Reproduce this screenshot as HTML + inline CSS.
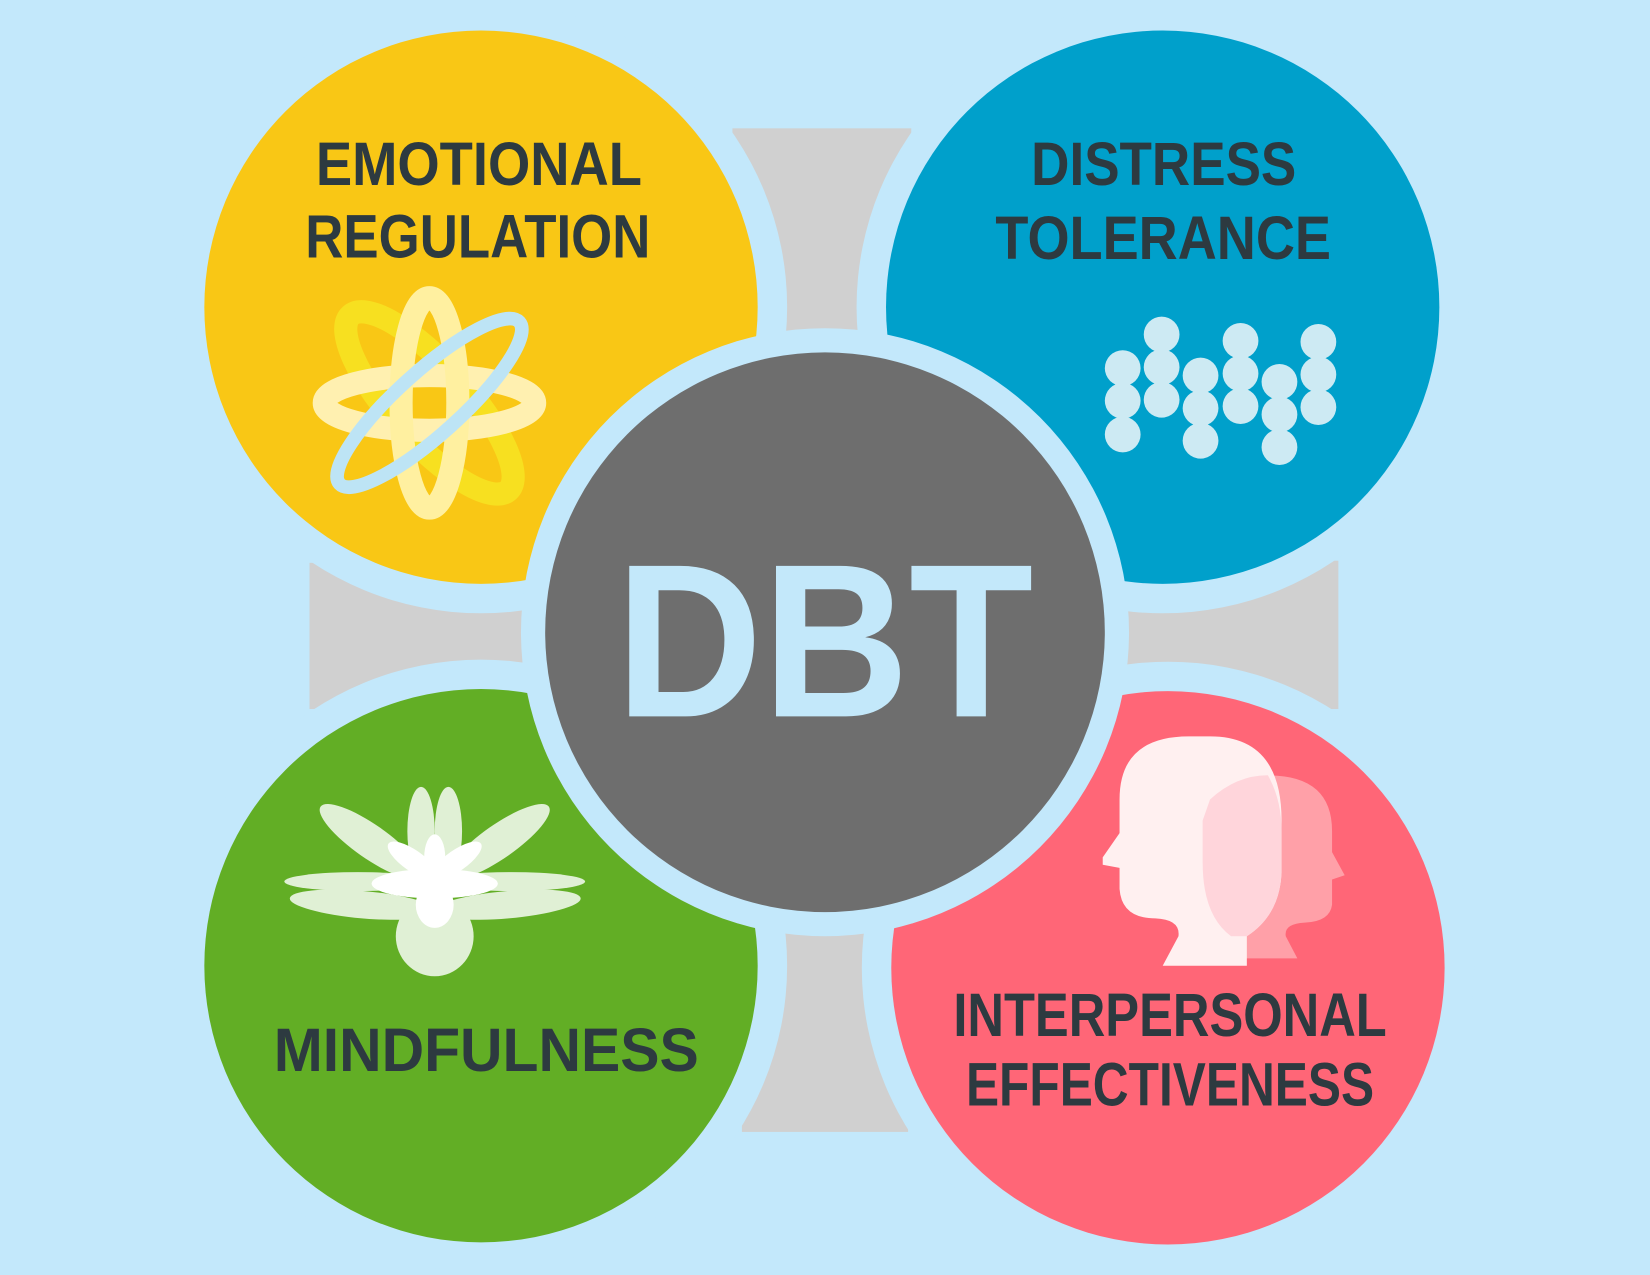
<!DOCTYPE html>
<html><head><meta charset="utf-8"><style>html,body{margin:0;padding:0;background:#c3e8fb}svg{display:block}</style></head>
<body>
<svg width="1650" height="1275" viewBox="0 0 1568 1212" xmlns="http://www.w3.org/2000/svg">
<rect width="1568" height="1212" fill="#c3e8fb"/>
<g fill="#d0d0d0">
<rect x="696" y="122" width="170" height="220"/>
<rect x="705" y="860" width="158" height="216"/>
<rect x="294" y="535" width="220" height="139"/>
<rect x="1060" y="533" width="212" height="141"/>
</g>
<g fill="#c3e8fb">
<circle cx="457" cy="292" r="291"/>
<circle cx="1105" cy="292" r="291"/>
<circle cx="457" cy="918" r="291"/>
<circle cx="1110" cy="920" r="291"/>
</g>
<circle cx="457" cy="292" r="263" fill="#f9c715"/>
<circle cx="1105" cy="292" r="263" fill="#00a0cb"/>
<circle cx="457" cy="918" r="263" fill="#62ae25"/>
<circle cx="1110" cy="920" r="263" fill="#ff6677"/>
<circle cx="784" cy="601" r="289" fill="#c3e8fb"/>
<circle cx="784" cy="601" r="266" fill="#6e6e6e"/>
<g font-family="Liberation Sans, sans-serif" font-weight="bold" fill="#2d3a40" font-size="58">
<text x="300" y="176" textLength="310" lengthAdjust="spacingAndGlyphs">EMOTIONAL</text>
<text x="290" y="245" textLength="328" lengthAdjust="spacingAndGlyphs">REGULATION</text>
<text x="980" y="176" textLength="252" lengthAdjust="spacingAndGlyphs">DISTRESS</text>
<text x="946" y="246" textLength="319" lengthAdjust="spacingAndGlyphs">TOLERANCE</text>
<text x="260" y="1018" textLength="404" lengthAdjust="spacingAndGlyphs">MINDFULNESS</text>
<text x="906" y="985" textLength="412" lengthAdjust="spacingAndGlyphs">INTERPERSONAL</text>
<text x="918" y="1051" textLength="388" lengthAdjust="spacingAndGlyphs">EFFECTIVENESS</text>
</g>
<text x="585" y="681" textLength="397" lengthAdjust="spacingAndGlyphs" font-family="Liberation Sans, sans-serif" font-weight="bold" font-size="208" fill="#c3e8fa">DBT</text>
<!-- atom -->
<g fill="none" stroke-width="22">
<ellipse cx="408" cy="383" rx="112" ry="36" stroke="#f7e020" transform="rotate(48 408 383)"/>
<ellipse cx="408" cy="383" rx="100" ry="26" stroke="#fff0b0"/>
<ellipse cx="408" cy="383" rx="27" ry="100" stroke="#fff0a0"/>
<ellipse cx="408" cy="383" rx="115" ry="30" stroke="#bde4f5" stroke-width="13" transform="rotate(-42 408 383)"/>
</g>
<!-- dots -->
<g fill="#cdeaf3">
<circle cx="1067" cy="350" r="17"/><circle cx="1067" cy="381" r="17"/><circle cx="1067" cy="413" r="17"/>
<circle cx="1104" cy="318" r="17"/><circle cx="1104" cy="349" r="17"/><circle cx="1104" cy="380" r="17"/>
<circle cx="1141" cy="357" r="17"/><circle cx="1141" cy="388" r="17"/><circle cx="1141" cy="419" r="17"/>
<circle cx="1179" cy="324" r="17"/><circle cx="1179" cy="355" r="17"/><circle cx="1179" cy="386" r="17"/>
<circle cx="1216" cy="363" r="17"/><circle cx="1216" cy="394" r="17"/><circle cx="1216" cy="425" r="17"/>
<circle cx="1253" cy="325" r="17"/><circle cx="1253" cy="356" r="17"/><circle cx="1253" cy="387" r="17"/>
</g>
<!-- lotus -->
<g fill="#e0f0d5">
<ellipse cx="413" cy="890" rx="37" ry="38"/>
<ellipse cx="340" cy="838" rx="70" ry="9"/>
<ellipse cx="486" cy="838" rx="70" ry="9"/>
<ellipse cx="345" cy="860" rx="70" ry="13" transform="rotate(5 345 860)"/>
<ellipse cx="482" cy="860" rx="70" ry="13" transform="rotate(-5 482 860)"/>
<ellipse cx="352" cy="800" rx="58" ry="16" transform="rotate(35 352 800)"/>
<ellipse cx="474" cy="800" rx="58" ry="16" transform="rotate(-35 474 800)"/>
<ellipse cx="400" cy="790" rx="13" ry="42"/>
<ellipse cx="426" cy="790" rx="13" ry="42"/>
</g>
<g fill="#ffffff">
<ellipse cx="413" cy="840" rx="60" ry="14"/>
<ellipse cx="413" cy="860" rx="18" ry="22"/>
<ellipse cx="392" cy="818" rx="28" ry="10" transform="rotate(35 392 818)"/>
<ellipse cx="434" cy="818" rx="28" ry="10" transform="rotate(-35 434 818)"/>
<ellipse cx="413" cy="815" rx="10" ry="22"/>
</g>
<!-- heads -->
<path d="M1143 780 Q1150 737 1205 737 Q1266 737 1266 790 L1266 810 L1278 832 L1266 836 L1266 860 Q1264 876 1240 877 Q1220 878 1222 890 L1233 911 L1183 911 L1183 895 Q1143 870 1143 820 Z" fill="#ffa0a8"/>
<path d="M1064 760 Q1064 700 1130 700 L1150 700 Q1218 700 1218 780 L1218 830 Q1216 870 1185 890 L1185 918 L1105 918 L1120 890 Q1122 874 1098 873 Q1066 873 1064 845 L1064 825 L1048 822 L1048 815 L1064 792 Z" fill="#fff0f0"/>
<path d="M1150 760 Q1175 737 1205 737 Q1218 760 1218 790 L1218 830 Q1216 870 1185 890 L1170 890 Q1143 870 1143 820 L1143 780 Z" fill="#ffd5db"/>
</svg>
</body></html>
